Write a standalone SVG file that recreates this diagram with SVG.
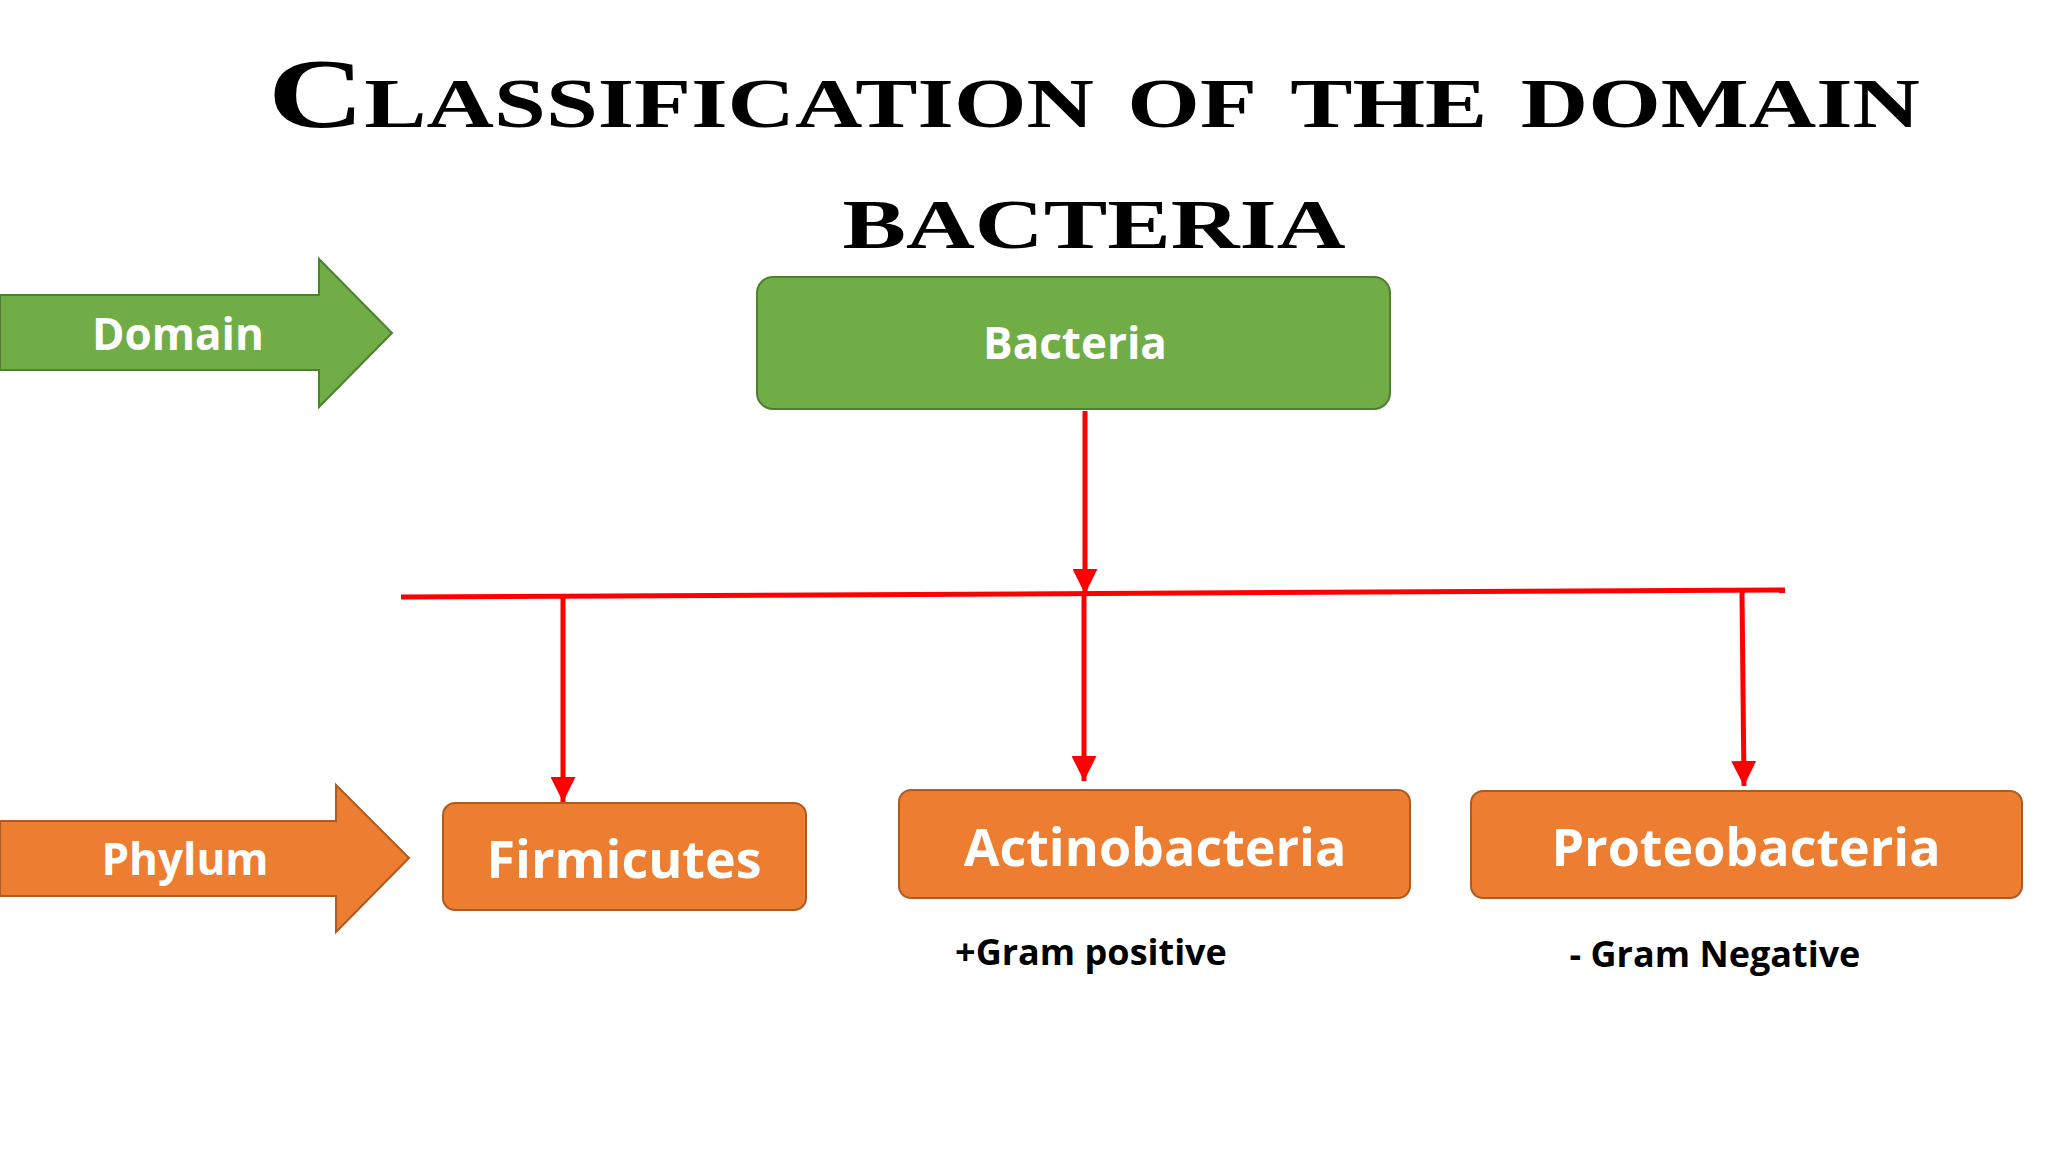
<svg xmlns="http://www.w3.org/2000/svg" width="2048" height="1152" viewBox="0 0 2048 1152">
<defs>
<marker id="ah" viewBox="0 0 10 10" refX="10" refY="5" markerWidth="5" markerHeight="5" orient="auto" markerUnits="strokeWidth"><path d="M0,0 L10,5 L0,10 Z" fill="#FF0000"/></marker>
</defs>
<style>
.t{font-family:"Liberation Serif",serif;font-weight:bold;font-variant:small-caps;fill:#000;text-anchor:middle}
.g{fill:#70AD47;stroke:#507E32;stroke-width:2}
.o{fill:#ED7D31;stroke:#AE5A21;stroke-width:2}
.l{font-family:"Open Sans",sans-serif;font-weight:bold;fill:#fff;text-anchor:middle;dominant-baseline:central}
.s{font-family:"Open Sans",sans-serif;font-weight:bold;fill:#000;text-anchor:middle;font-size:36px}
.c{stroke:#FF0000;stroke-width:5;fill:none}
</style>
<rect width="2048" height="1152" fill="#fff"/>
<text class="t" x="1094" y="127" font-size="100" textLength="1652" lengthAdjust="spacingAndGlyphs">Classification of the domain</text>
<text class="t" x="1094" y="248" font-size="100" textLength="503" lengthAdjust="spacingAndGlyphs">bacteria</text>
<g id="domain"><path class="g" stroke="none" d="M0,295 H319 V259 L392,333 L319,407 V370 H0 Z"/><text class="l" x="178" y="333" font-size="44">Domain</text></g>
<g id="phylum"><path class="o" stroke="none" d="M0,821 H336 V785 L409,858 L336,932 V896 H0 Z"/><text class="l" x="185" y="858" font-size="44">Phylum</text></g>
<g id="bacteria"><rect class="g" x="757" y="277" width="633" height="132" rx="16"/><text class="l" x="1075" y="342" font-size="44">Bacteria</text></g>
<g id="firmicutes"><rect class="o" x="443" y="803" width="363" height="107" rx="12"/><text class="l" x="624" y="857" font-size="52">Firmicutes</text></g>
<g id="actinobacteria"><rect class="o" x="899" y="790" width="511" height="108" rx="12"/><text class="l" x="1155" y="845" font-size="52">Actinobacteria</text></g>
<g id="proteobacteria"><rect class="o" x="1471" y="791" width="551" height="107" rx="12"/><text class="l" x="1746" y="845" font-size="52">Proteobacteria</text></g>
<text class="s" x="1091" y="965">+Gram positive</text>
<text class="s" x="1715" y="967" font-weight="600">- Gram Negative</text>
<g id="connectors">
<line class="c" x1="1085" y1="411" x2="1085" y2="594" marker-end="url(#ah)"/>
<line class="c" x1="401" y1="597" x2="1785" y2="590"/>
<line class="c" x1="563" y1="597" x2="563" y2="802" marker-end="url(#ah)"/>
<line class="c" x1="1084" y1="594" x2="1084" y2="781" marker-end="url(#ah)"/>
<line class="c" x1="1742" y1="592" x2="1744" y2="786" marker-end="url(#ah)"/>
</g>
</svg>
